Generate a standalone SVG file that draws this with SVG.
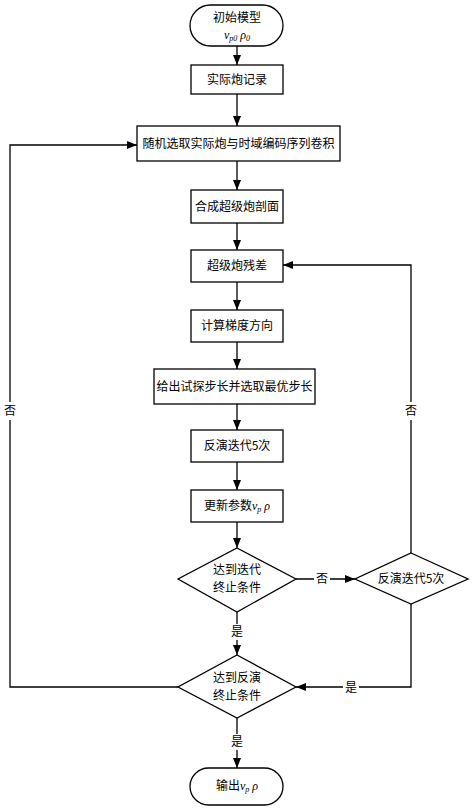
<svg xmlns="http://www.w3.org/2000/svg" width="474" height="808" viewBox="0 0 474 808">
<defs>
<marker id="arr" markerWidth="10" markerHeight="8" refX="10" refY="4" orient="auto" markerUnits="userSpaceOnUse">
<path d="M0,0 L10,4 L0,8 Z" fill="#000"/>
</marker>
<style>
.n{fill:#fff;stroke:#000;stroke-width:1.3}
.t{font-family:"Noto Sans CJK SC","Liberation Sans",sans-serif;font-size:12px;fill:#000;text-anchor:middle}
.m{font-family:"Liberation Serif",serif;font-style:italic;font-size:12px;fill:#000}
.c{fill:none;stroke:#000;stroke-width:1.3}
.l{font-family:"Noto Sans CJK SC","Liberation Sans",sans-serif;font-size:12px;fill:#000;text-anchor:middle}
</style>
</defs>
<rect width="474" height="808" fill="#fff"/>
<g id="connectors">
<path class="c" d="M237,46 V65" marker-end="url(#arr)"/>
<path class="c" d="M237,94 V126" marker-end="url(#arr)"/>
<path class="c" d="M237,161 V190" marker-end="url(#arr)"/>
<path class="c" d="M237,223 V250" marker-end="url(#arr)"/>
<path class="c" d="M237,282 V310" marker-end="url(#arr)"/>
<path class="c" d="M237,342 V369" marker-end="url(#arr)"/>
<path class="c" d="M237,404 V430" marker-end="url(#arr)"/>
<path class="c" d="M237,462 V490" marker-end="url(#arr)"/>
<path class="c" d="M237,522 V548" marker-end="url(#arr)"/>
<path class="c" d="M296,579 H355" marker-end="url(#arr)"/>
<path class="c" d="M237,612 V655" marker-end="url(#arr)"/>
<path class="c" d="M237,718 V768" marker-end="url(#arr)"/>
<path class="c" d="M411,553 V265 H283" marker-end="url(#arr)"/>
<path class="c" d="M411,604 V687 H296" marker-end="url(#arr)"/>
<path class="c" d="M178,687 H10 V145 H137" marker-end="url(#arr)"/>
<rect x="314" y="571" width="16" height="16" fill="#fff"/>
<text class="l" x="322" y="583">否</text>
<rect x="229" y="624" width="16" height="16" fill="#fff"/>
<text class="l" x="237" y="636">是</text>
<rect x="229" y="734" width="16" height="16" fill="#fff"/>
<text class="l" x="237" y="746">是</text>
<rect x="343" y="680" width="16" height="16" fill="#fff"/>
<text class="l" x="351" y="692">是</text>
<rect x="2" y="402" width="16" height="18" fill="#fff"/>
<text class="l" x="10" y="415">否</text>
<rect x="403" y="402" width="16" height="18" fill="#fff"/>
<text class="l" x="411" y="415">否</text>
</g>
<g id="start">
<rect class="n" x="190" y="5" width="93" height="41" rx="20.5"/>
<text class="t" x="237" y="22">初始模型</text>
<text class="m" x="237" y="39" text-anchor="middle">v<tspan font-size="8" dy="2">p0</tspan><tspan dy="-2"> ρ</tspan><tspan font-size="8" dy="2">0</tspan></text>
</g>
<g id="record">
<rect class="n" x="191" y="65" width="92" height="29"/>
<text class="t" x="237" y="84">实际炮记录</text>
</g>
<g id="select">
<rect class="n" x="137" y="126" width="203" height="35"/>
<text class="t" x="238.5" y="148">随机选取实际炮与时域编码序列卷积</text>
</g>
<g id="synth">
<rect class="n" x="191" y="190" width="92" height="33"/>
<text class="t" x="237" y="211">合成超级炮剖面</text>
</g>
<g id="residual">
<rect class="n" x="191" y="250" width="92" height="32"/>
<text class="t" x="237" y="270">超级炮残差</text>
</g>
<g id="gradient">
<rect class="n" x="191" y="310" width="92" height="32"/>
<text class="t" x="237" y="330">计算梯度方向</text>
</g>
<g id="step">
<rect class="n" x="154" y="369" width="161" height="35"/>
<text class="t" x="234.5" y="391">给出试探步长并选取最优步长</text>
</g>
<g id="inv5">
<rect class="n" x="191" y="430" width="92" height="32"/>
<text class="t" x="237" y="450">反演迭代5次</text>
</g>
<g id="update">
<rect class="n" x="191" y="490" width="92" height="32"/>
<text class="t" x="237" y="510">更新参数<tspan class="m">v<tspan font-size="8" dy="2">p</tspan><tspan dy="-2"> ρ</tspan></tspan></text>
</g>
<g id="cond1">
<path class="n" d="M237,548 L296,579 L237,612 L178,579 Z"/>
<text class="t" x="237" y="574">达到迭代</text>
<text class="t" x="237" y="592">终止条件</text>
</g>
<g id="cond2">
<path class="n" d="M411,553 L468,579 L411,604 L355,579 Z"/>
<text class="t" x="411" y="583">反演迭代5次</text>
</g>
<g id="cond3">
<path class="n" d="M237,655 L296,687 L237,718 L178,687 Z"/>
<text class="t" x="237" y="682">达到反演</text>
<text class="t" x="237" y="700">终止条件</text>
</g>
<g id="end">
<rect class="n" x="190" y="768" width="93" height="37" rx="18.5"/>
<text class="t" x="237" y="790">输出<tspan class="m">v<tspan font-size="8" dy="2">p</tspan><tspan dy="-2"> ρ</tspan></tspan></text>
</g>
</svg>
